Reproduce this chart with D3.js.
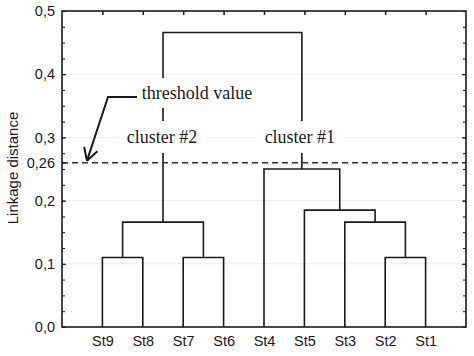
<!DOCTYPE html>
<html>
<head>
<meta charset="utf-8">
<script src="https://cdn.jsdelivr.net/npm/d3@7"></script>
<style>
  html, body { margin: 0; padding: 0; background: #fff; }
  svg { display: block; }
</style>
</head>
<body>
<svg id="chart" width="474" height="356"></svg>
<script>
// ---- data ----
const leaves = ["St9", "St8", "St7", "St6", "St4", "St5", "St3", "St2", "St1"];
const mergePairs = [
  ["St9", "St8"], ["St7", "St6"], ["St2", "St1"],
  ["m0", "m1"], ["St3", "m2"], ["St5", "m4"], ["St4", "m5"], ["m3", "m6"]
];
const mergeHeights = [0.11, 0.11, 0.11, 0.166, 0.166, 0.185, 0.25, 0.466];
const yTicks = [0, 0.1, 0.2, 0.26, 0.3, 0.4, 0.5];
const gridValues = [0.1, 0.2, 0.3, 0.4];
const threshold = 0.26;

// ---- layout ----
const W = 474, H = 356;
const L = 62, R = 466, T = 11, B = 327;
const svg = d3.select("#chart");
const sans = "'Liberation Sans', Arial, sans-serif";
const serif = "'Liberation Serif', 'Times New Roman', serif";
const ink = "#1a1a1a";

const x = d3.scalePoint().domain(leaves).range([L, R]).padding(1);
const y = d3.scaleLinear().domain([0, 0.5]).range([B, T]);

// gridlines
svg.append("g").selectAll("line").data(gridValues).join("line")
  .attr("x1", L).attr("x2", R)
  .attr("y1", d => y(d)).attr("y2", d => y(d))
  .attr("stroke", "#ececec").attr("stroke-width", 1);

// dendrogram
const nodes = {};
leaves.forEach(l => nodes[l] = { x: x(l), h: 0 });
const gD = svg.append("g").attr("fill", "none").attr("stroke", ink).attr("stroke-width", 1.6);
mergePairs.forEach((p, i) => {
  const a = nodes[p[0]], b = nodes[p[1]], h = mergeHeights[i];
  gD.append("path").attr("d",
    `M${a.x},${y(a.h)}V${y(h)}H${b.x}V${y(b.h)}`);
  nodes["m" + i] = { x: (a.x + b.x) / 2, h: h };
});

// threshold line
svg.append("line")
  .attr("x1", L).attr("x2", R)
  .attr("y1", y(threshold)).attr("y2", y(threshold))
  .attr("stroke", "#333").attr("stroke-width", 1.4)
  .attr("stroke-dasharray", "6,4");

// labels with white background
function boxedText(txt, cx, baseline, size, padX, padY) {
  const t = svg.append("text")
    .attr("x", cx).attr("y", baseline)
    .attr("text-anchor", "middle")
    .attr("font-family", serif).attr("font-size", size)
    .attr("fill", ink).text(txt);
  const bb = t.node().getBBox();
  svg.insert("rect", () => t.node())
    .attr("x", bb.x - padX).attr("y", bb.y - padY)
    .attr("width", bb.width + 2 * padX).attr("height", bb.height + 2 * padY)
    .attr("fill", "#fff");
  return t;
}
const c2 = nodes["m3"], c1 = nodes["m6"];
boxedText("threshold value", 197, 99, 18, 5, 5);
boxedText("cluster #2", c2.x - 1, 143, 18, 8, 6);
boxedText("cluster #1", c1.x - 2, 143, 18, 8, 6);

// arrow
const tip = [87, y(threshold) - 2];
const elbow = [108, 97];
svg.append("path")
  .attr("d", `M137,${elbow[1]}H${elbow[0]}L${tip[0]},${tip[1]}`)
  .attr("fill", "none").attr("stroke", ink).attr("stroke-width", 2);
const ang = Math.atan2(elbow[1] - tip[1], elbow[0] - tip[0]);
[Math.PI / 6, -Math.PI / 6].forEach(da => {
  svg.append("line")
    .attr("x1", tip[0]).attr("y1", tip[1])
    .attr("x2", tip[0] + 14 * Math.cos(ang + da))
    .attr("y2", tip[1] + 14 * Math.sin(ang + da))
    .attr("stroke", ink).attr("stroke-width", 2);
});

// frame
svg.append("rect").attr("x", L).attr("y", T).attr("width", R - L).attr("height", B - T)
  .attr("fill", "none").attr("stroke", ink).attr("stroke-width", 1.6);

// minor ticks
const minor = d3.range(0, 0.5001, 0.025);
const fmt = d => d3.format(d === 0.26 ? ".2f" : ".1f")(d).replace(".", ",");

const gl = svg.append("g").attr("transform", `translate(${L},0)`)
  .call(d3.axisLeft(y).tickValues(yTicks).tickFormat(fmt).tickSize(-4).tickPadding(7));
gl.select(".domain").remove();
gl.selectAll("line").attr("stroke", ink);
gl.selectAll("text").attr("font-family", sans).attr("font-size", 14.5).attr("fill", ink);

const glm = svg.append("g").attr("transform", `translate(${L},0)`)
  .call(d3.axisLeft(y).tickValues(minor).tickFormat("").tickSize(-3));
glm.select(".domain").remove();
glm.selectAll("line").attr("stroke", ink);

const gr = svg.append("g").attr("transform", `translate(${R},0)`)
  .call(d3.axisRight(y).tickValues(gridValues).tickFormat("").tickSize(-4));
gr.select(".domain").remove();
gr.selectAll("line").attr("stroke", ink);
const grm = svg.append("g").attr("transform", `translate(${R},0)`)
  .call(d3.axisRight(y).tickValues(minor).tickFormat("").tickSize(-3));
grm.select(".domain").remove();
grm.selectAll("line").attr("stroke", ink);

const gt = svg.append("g").attr("transform", `translate(0,${T})`)
  .call(d3.axisTop(x).tickFormat("").tickSize(-4));
gt.select(".domain").remove();
gt.selectAll("line").attr("stroke", ink).attr("stroke-width", 1.5);

// bottom labels
const gb = svg.append("g").attr("transform", `translate(0,${B})`)
  .call(d3.axisBottom(x).tickSize(0).tickPadding(9));
gb.select(".domain").remove();
gb.selectAll("text").attr("font-family", sans).attr("font-size", 14.5).attr("fill", ink);

// y-axis title
svg.append("text")
  .attr("transform", "translate(18,168) rotate(-90)")
  .attr("text-anchor", "middle")
  .attr("font-family", sans).attr("font-size", 15).attr("fill", ink)
  .text("Linkage distance");
</script>
</body>
</html>
